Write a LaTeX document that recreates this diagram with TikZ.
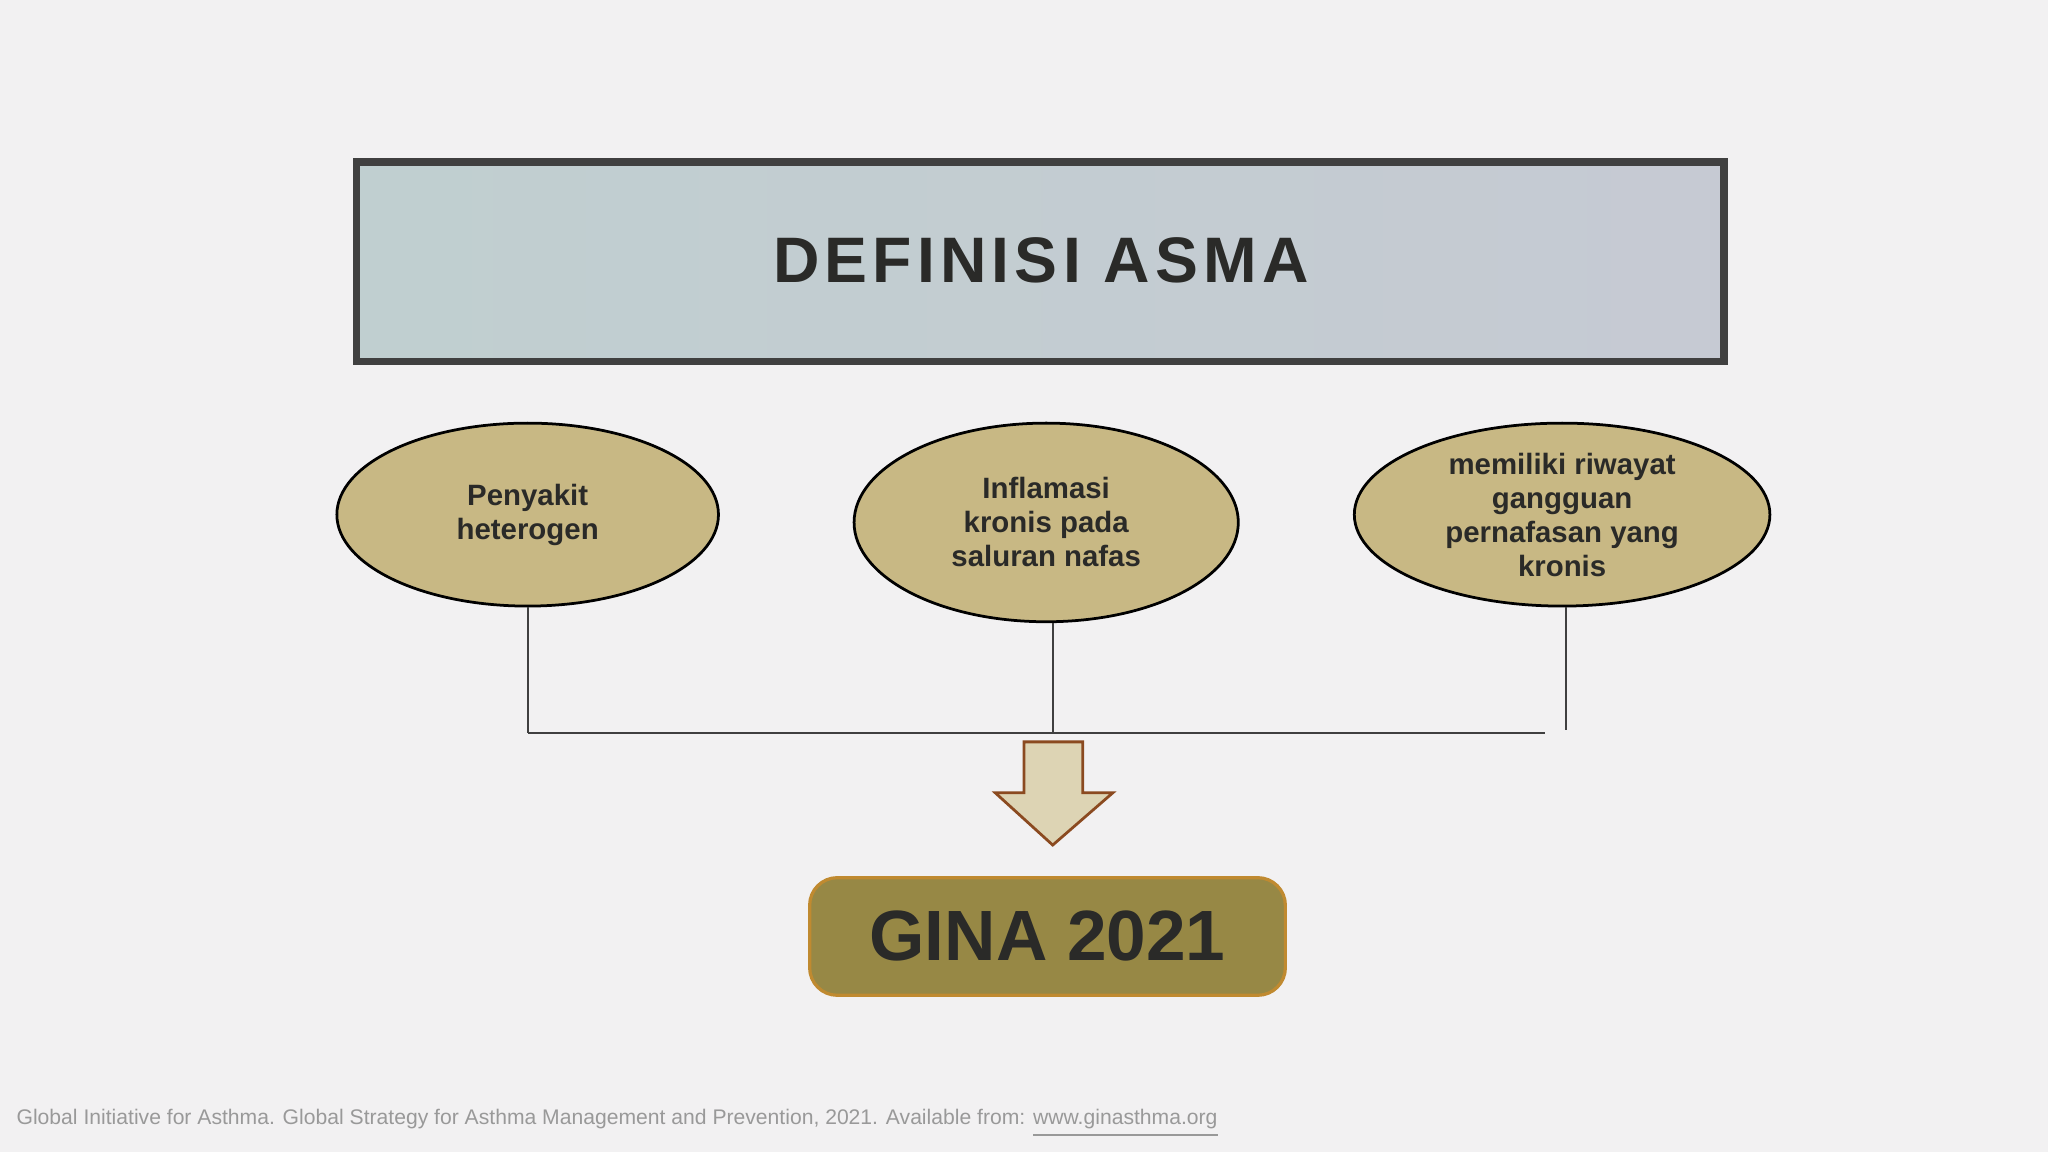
\documentclass[tikz,border=0pt]{standalone}
\usepackage{fontspec}
\setmainfont{Liberation Sans}
\usetikzlibrary{shapes.geometric}
\definecolor{bg}{HTML}{F2F1F2}
\definecolor{boxa}{HTML}{C0CFD0}
\definecolor{boxb}{HTML}{C6CAD3}
\definecolor{ell}{HTML}{C8B884}
\definecolor{txt}{HTML}{2A2A28}
\definecolor{arr}{HTML}{DDD4B4}
\definecolor{arrb}{HTML}{8B4A20}
\definecolor{gina}{HTML}{978845}
\definecolor{ginab}{HTML}{C08A30}
\begin{document}
\begin{tikzpicture}[x=0.01cm,y=-0.01cm,
  ov/.style={ellipse,draw=black,fill=ell,line width=0.6pt,text=txt,font=\fontsize{6.4}{7.4}\selectfont\bfseries,align=center,inner sep=0pt},
  con/.style={draw=black!75,line width=0.5pt}]
\fill[bg] (0,0) rectangle (1568,882);
\shade[left color=boxa,right color=boxb] (273,124) rectangle (1320,277);
\draw[line width=1.6pt,draw=black!75] (273,124) rectangle (1320,277);
\node[text=txt,font=\fontsize{14}{16}\selectfont\bfseries] (title) at (797,199) {\addfontfeature{LetterSpace=8}DEFINISI ASMA};
\node[ov,minimum width=2.92cm,minimum height=1.40cm] (e1) at (404,394) {Penyakit\\heterogen};
\node[ov,minimum width=2.94cm,minimum height=1.52cm] (e2) at (801,400) {Inflamasi\\kronis pada\\saluran nafas};
\node[ov,minimum width=3.18cm,minimum height=1.40cm] (e3) at (1196,394) {memiliki riwayat\\gangguan\\pernafasan yang\\kronis};
\coordinate (h1) at (404,561);
\coordinate (h2) at (806,561);
\coordinate (h3) at (1199,559);
\coordinate (hr) at (1183,561);
\draw[con] (e1.south) -- (h1);
\draw[con] (e2.south -| h2) -- (h2);
\draw[con] (e3.south -| h3) -- (h3);
\draw[con] (h1) -- (hr);
\draw[fill=arr,draw=arrb,line width=0.6pt] (784,568) -- (829,568) -- (829,607) -- (852,607) -- (806,647) -- (762,607) -- (784,607) -- cycle;
\node[draw=ginab,fill=gina,rounded corners=6pt,minimum width=3.64cm,minimum height=0.90cm,line width=0.7pt,text=txt,font=\fontsize{15.5}{18}\selectfont\bfseries] (g) at (802,717) {GINA 2021};
\node[anchor=west,text=black!40,font=\fontsize{4.6}{5.5}\selectfont,inner sep=0pt] (foot) at (12,860) {Global Initiative for Asthma. Global Strategy for Asthma Management and Prevention, 2021. Available from: \underline{www.ginasthma.org}};
\end{tikzpicture}
\end{document}
